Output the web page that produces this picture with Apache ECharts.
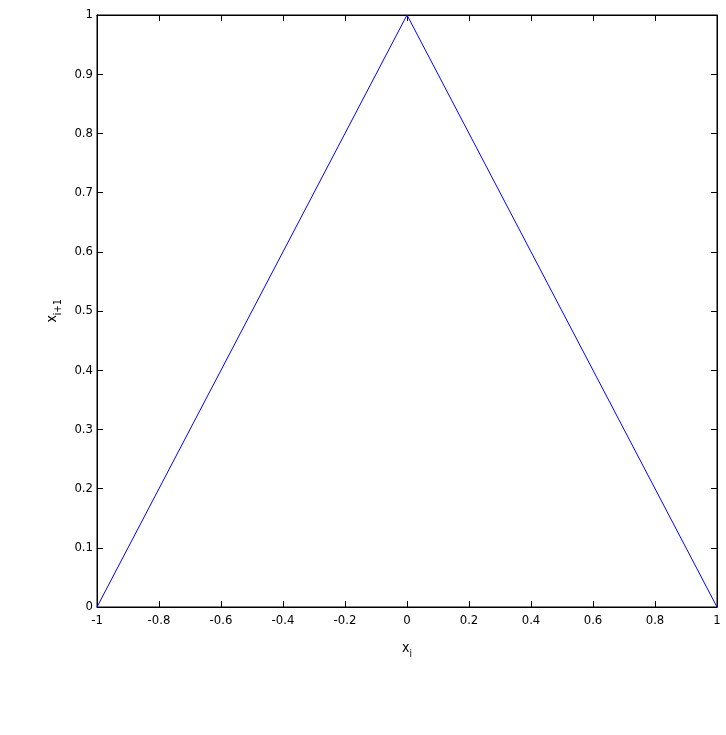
<!DOCTYPE html>
<html><head><meta charset="utf-8">
<script src="https://cdn.jsdelivr.net/npm/echarts@6/dist/echarts.min.js"></script>
<style>html,body{margin:0;padding:0;background:#fff}#c{width:726px;height:735px}</style>
</head><body><div id="c"></div>
<script>
const xValues = [-1, 0, 1];
const yValues = [0, 1, 0];
const xTicks = [-1, -0.8, -0.6, -0.4, -0.2, 0, 0.2, 0.4, 0.6, 0.8, 1];
const yTicks = [0, 0.1, 0.2, 0.3, 0.4, 0.5, 0.6, 0.7, 0.8, 0.9, 1];

const chart = echarts.init(document.getElementById('c'));
const font = '"DejaVu Sans Condensed", "DejaVu Sans", sans-serif';
const lbl = {color: '#000', fontSize: 13, fontFamily: font};
const fmt = v => String(Math.round(v * 10) / 10);
chart.setOption({
  animation: false,
  grid: {left: 97, right: 9, top: 15, bottom: 128, show: true, borderColor: '#000', borderWidth: 1},
  xAxis: [{
    type: 'value', min: -1, max: 1, interval: 0.2,
    axisLine: {show: true, onZero: false, lineStyle: {color: '#000'}},
    axisTick: {show: true, inside: true, length: 6, lineStyle: {color: '#000'}},
    axisLabel: Object.assign({margin: 7, formatter: fmt}, lbl),
    splitLine: {show: false},
    name: 'x{s|i}', nameLocation: 'middle', nameGap: 30,
    nameTextStyle: {color: '#000', fontSize: 14, fontFamily: font, rich: {s: {fontSize: 10, padding: [12, 0, 0, 0], fontFamily: font}}}
  }, {
    type: 'value', min: -1, max: 1, interval: 0.2, position: 'top',
    axisLine: {show: true, onZero: false, lineStyle: {color: '#000'}},
    axisTick: {show: true, inside: true, length: 6, lineStyle: {color: '#000'}},
    axisLabel: {show: false}, splitLine: {show: false}
  }],
  yAxis: [{
    type: 'value', min: 0, max: 1, interval: 0.1,
    axisLine: {show: true, onZero: false, lineStyle: {color: '#000'}},
    axisTick: {show: true, inside: true, length: 6, lineStyle: {color: '#000'}},
    axisLabel: Object.assign({margin: 4, formatter: fmt}, lbl),
    splitLine: {show: false},
    name: 'x{s|i+1}', nameLocation: 'middle', nameGap: 33, nameRotate: 90,
    nameTextStyle: {color: '#000', fontSize: 14, fontFamily: font, rich: {s: {fontSize: 10, padding: [12, 0, 0, 0], fontFamily: font}}}
  }, {
    type: 'value', min: 0, max: 1, interval: 0.1, position: 'right',
    axisLine: {show: true, onZero: false, lineStyle: {color: '#000'}},
    axisTick: {show: true, inside: true, length: 6, lineStyle: {color: '#000'}},
    axisLabel: {show: false}, splitLine: {show: false}
  }],
  series: [{
    type: 'line',
    data: xValues.map((x, i) => [x, yValues[i]]),
    showSymbol: false, symbol: 'none',
    lineStyle: {color: '#0000ff', width: 1}
  }]
});
</script></body></html>
